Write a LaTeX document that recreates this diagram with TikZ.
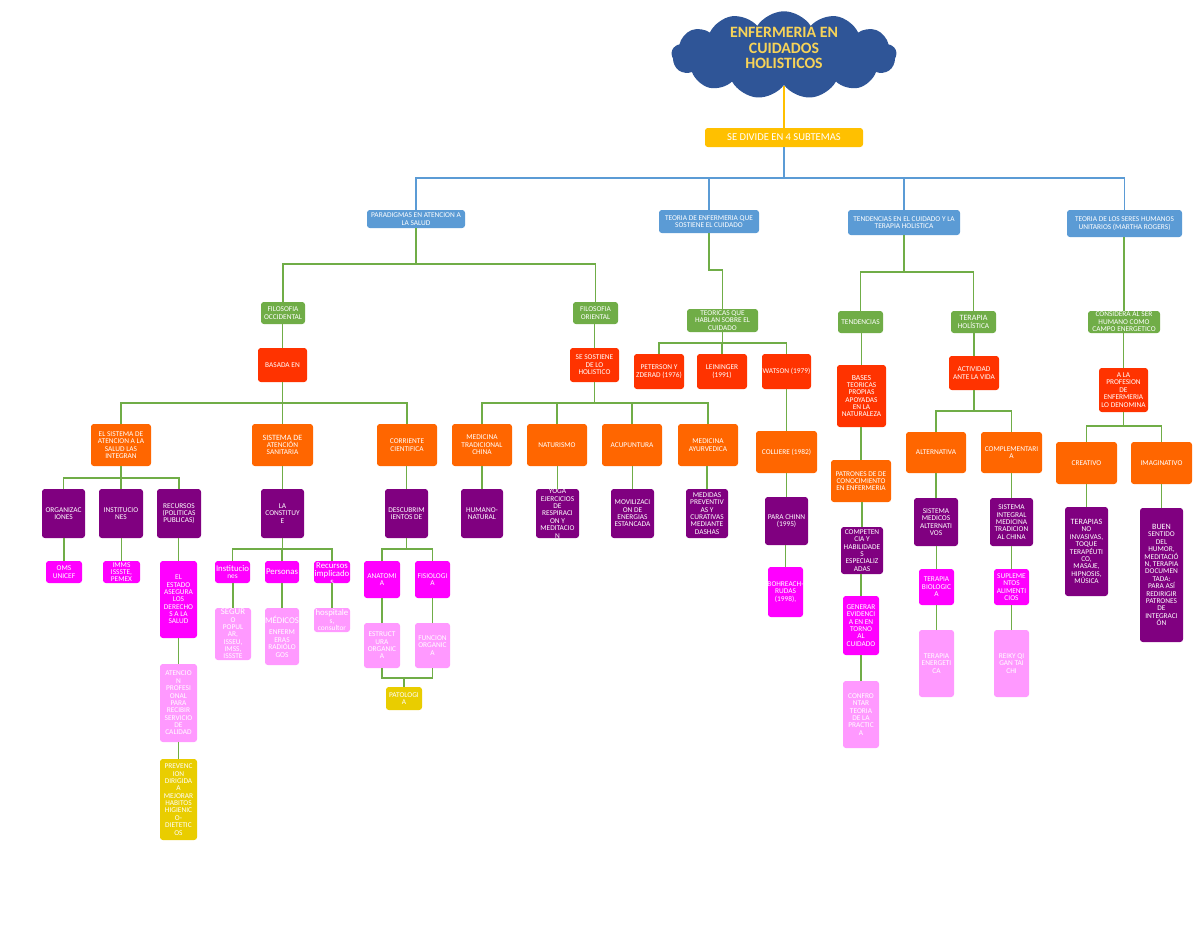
\documentclass[tikz,border=0pt]{standalone}
\usepackage{fontspec}
\newfontfamily\cf{Carlito}
\usetikzlibrary{shapes.symbols}
\definecolor{cblue}{HTML}{5B9BD5}
\definecolor{cgreen}{HTML}{70AD47}
\definecolor{cred}{HTML}{FF3300}
\definecolor{corange}{HTML}{FF6600}
\definecolor{cpurple}{HTML}{800080}
\definecolor{cmag}{HTML}{FF00FF}
\definecolor{clpink}{HTML}{FF99FF}
\definecolor{cyel}{HTML}{E9CD00}
\definecolor{cgold}{HTML}{FFC000}
\definecolor{ccloud}{HTML}{2F5597}
\definecolor{ctitle}{HTML}{F7D358}
\newcommand\bx[7]{%
  \node[box, fill=#2, minimum width={(#5-#3)*0.02cm}, minimum height={(#6-#4)*0.02cm}] (#1) at ({(#3+#5)/2},{(#4+#6)/2}) {};
  \node[txt] (#1-t) at (#1) {#7};}
\newcommand\vc[2]{\draw[gl] (#2.north) -- (#2.north |- #1.south);}
\newcommand\tb[3]{%
  \coordinate (#1-bar) at (#1.south |- 0,#2);
  \draw[gl] (#1) -- (#1-bar);
  \foreach \c in {#3} {\draw[gl] (\c) |- (#1-bar);}}
\begin{document}
\begin{tikzpicture}[x=0.02cm,y=-0.02cm,
  box/.style={rectangle, rounded corners=1.6pt, draw=none, inner sep=0pt, outer sep=0pt},
  txt/.style={font=\cf\fontsize{4.2}{4.2}\selectfont, text=white, align=center, inner sep=0pt},
  gl/.style={draw=cgreen, line width=1.1pt},
  bl/.style={draw=cblue, line width=1.1pt},
  big/.style={font=\cf\fontsize{4.6}{4.9}\selectfont},
  low/.style={font=\cf\fontsize{5}{4.8}\selectfont}]
\fill[white] (0,0) rectangle (1200,927);
\useasboundingbox (0,0) rectangle (1200,927);
% title
\node[cloud, cloud puffs=13, cloud puff arc=115, aspect=2.5, fill=ccloud, minimum width=4.5cm, minimum height=1.75cm, inner sep=0pt] (cloud) at (784,55) {};
\node[font=\cf\bfseries\fontsize{9}{8.6}\selectfont, text=ctitle, align=center] (title) at (784,48) {ENFERMERIA EN\\CUIDADOS\\HOLISTICOS};
\bx{divide}{cgold}{705}{128}{863}{147}{\fontsize{6}{6}\selectfont SE DIVIDE EN 4 SUBTEMAS}
\draw[draw=cgold, line width=1.1pt] (divide.north) -- (divide.north |- cloud.south);
% level 1
\bx{par}{cblue}{367}{210}{465}{228}{PARADIGMAS EN ATENCION A\\LA SALUD}
\bx{teo}{cblue}{659}{210}{759}{233}{TEORIA DE ENFERMERIA QUE\\SOSTIENE EL CUIDADO}
\bx{ten}{cblue}{848}{210}{960}{235}{TENDENCIAS EN EL CUIDADO Y LA\\TERAPIA HOLISTICA}
\bx{rog}{cblue}{1067}{210}{1182}{237}{TEORIA DE LOS SERES HUMANOS\\UNITARIOS (MARTHA ROGERS)}
\coordinate (bb) at (784,178);
\draw[bl] (divide) -- (bb);
\foreach \n in {par,teo,ten,rog} {\draw[bl] (\n) |- (bb);}
% tree A
\bx{filocc}{cgreen}{261}{302}{305}{324}{FILOSOFIA\\OCCIDENTAL}
\bx{basada}{cred}{258}{348}{307}{382}{BASADA EN}
\bx{sis1}{corange}{91}{424}{151}{466}{EL SISTEMA DE\\ATENCION A LA\\SALUD LAS\\INTEGRAN}
\bx{sis2}{corange}{252}{424}{313}{466}{\fontsize{4.6}{4.9}\selectfont SISTEMA DE\\ATENCIÓN\\SANITARIA}
\bx{corr}{corange}{377}{424}{437}{466}{CORRIENTE\\CIENTIFICA}
\bx{org}{cpurple}{42}{489}{85}{538}{ORGANIZAC\\IONES}
\bx{inst}{cpurple}{99}{489}{143}{538}{INSTITUCIO\\NES}
\bx{recp}{cpurple}{157}{489}{201}{538}{RECURSOS\\(POLITICAS\\PUBLICAS)}
\bx{oms}{cmag}{46}{561}{82}{583}{OMS\\UNICEF}
\bx{imms}{cmag}{103}{561}{140}{583}{IMMS\\ISSSTE,\\PEMEX}
\bx{estado}{cmag}{160}{561}{197}{638}{EL\\ESTADO\\ASEGURA\\LOS\\DERECHO\\S A LA\\SALUD}
\bx{aten}{clpink}{160}{664}{197}{742}{ATENCIO\\N\\PROFESI\\ONAL\\PARA\\RECIBIR\\SERVICIO\\DE\\CALIDAD}
\bx{prev}{cyel}{160}{759}{197}{840}{PREVENC\\ION\\DIRIGIDA\\A\\MEJORAR\\HABITOS\\HIGIENIC\\O-\\DIETETIC\\OS}
\bx{lacon}{cpurple}{261}{489}{304}{538}{LA\\CONSTITUY\\E}
\bx{instn}{cmag}{215}{561}{250}{583}{\fontsize{5}{5}\selectfont Institucio\\nes}
\bx{pers}{cmag}{265}{561}{299}{583}{\fontsize{5}{5}\selectfont Personas}
\node[box, fill=cmag, minimum width=0.72cm, minimum height=0.44cm] (recimp) at (332,572) {};
\node[txt, low, anchor=north] (recimp-t) at ([yshift=-0.6pt]recimp.north) {Recursos\\implicado\\s};
\bx{seguro}{clpink}{215}{608}{251}{660}{\fontsize{5}{4.6}\selectfont SEGUR\\O\\POPUL\\AR,\\ISSEU,\\IMSS,\\ISSSTE}
\bx{medicos}{clpink}{265}{608}{299}{665}{\fontsize{5}{4.8}\selectfont MÉDICOS\\[2.5pt]ENFERM\\ERAS\\RADIÓLO\\GOS}
\bx{hosp}{clpink}{314}{608}{350}{632}{\fontsize{5}{4.6}\selectfont hospitale\\s,\\consultor}
\bx{desc}{cpurple}{385}{489}{428}{538}{DESCUBRIM\\IENTOS DE}
\bx{anat}{cmag}{364}{561}{400}{598}{ANATOMI\\A}
\bx{fisio}{cmag}{415}{561}{450}{598}{FISIOLOGI\\A}
\bx{estr}{clpink}{364}{623}{400}{668}{ESTRUCT\\URA\\ORGANIC\\A}
\bx{func}{clpink}{415}{623}{450}{668}{FUNCION\\ORGANIC\\A}
\bx{pato}{cyel}{386}{687}{422}{710}{PATOLOGI\\A}
\bx{filori}{cgreen}{573}{302}{618}{324}{FILOSOFIA\\ORIENTAL}
\bx{sost}{cred}{570}{348}{619}{382}{SE SOSTIENE\\DE LO\\HOLISTICO}
\bx{mtc}{corange}{452}{424}{512}{466}{MEDICINA\\TRADICIONAL\\CHINA}
\bx{nat}{corange}{527}{424}{587}{466}{NATURISMO}
\bx{acu}{corange}{602}{424}{662}{466}{ACUPUNTURA}
\bx{ayur}{corange}{678}{424}{738}{466}{MEDICINA\\AYURVEDICA}
\bx{hum}{cpurple}{461}{489}{503}{538}{HUMANO-\\NATURAL}
\bx{yoga}{cpurple}{536}{489}{579}{538}{YOGA\\EJERCICIOS\\DE\\RESPIRACI\\ON Y\\MEDITACIO\\N}
\bx{movil}{cpurple}{611}{489}{654}{538}{MOVILIZACI\\ON DE\\ENERGIAS\\ESTANCADA}
\bx{medid}{cpurple}{686}{489}{728}{538}{MEDIDAS\\PREVENTIV\\AS Y\\CURATIVAS\\MEDIANTE\\DASHAS}
% tree B
\bx{teoricas}{cgreen}{687}{309}{758}{332}{TEORICAS QUE\\HABLAN SOBRE EL\\CUIDADO}
\bx{pet}{cred}{634}{354}{684}{389}{PETERSON Y\\ZDERAD (1976)}
\bx{lein}{cred}{697}{354}{747}{389}{LEININGER\\(1991)}
\bx{wat}{cred}{762}{354}{811}{389}{WATSON (1979)}
\bx{coll}{corange}{756}{431}{817}{473}{COLLIERE (1982)}
\bx{chinn}{cpurple}{765}{497}{808}{545}{PARA CHINN\\(1995)}
\bx{bohr}{cmag}{768}{567}{803}{617}{BOHREACH-\\RUDAS\\(1998),}
% tree C
\bx{tend}{cgreen}{838}{311}{883}{333}{TENDENCIAS}
\bx{terh}{cgreen}{951}{311}{996}{333}{\fontsize{4.6}{4.9}\selectfont TERAPIA\\HOLÍSTICA}
\bx{bases}{cred}{837}{365}{886}{427}{\fontsize{4.4}{4.8}\selectfont BASES\\TEORICAS\\PROPIAS\\APOYADAS\\EN LA\\NATURALEZA}
\bx{patr}{corange}{831}{460}{891}{502}{PATRONES DE DE\\CONOCIMIENTO\\EN ENFERMERIA}
\bx{comp}{cpurple}{841}{527}{883}{574}{COMPETEN\\CIA Y\\HABILIDADE\\S\\ESPECIALIZ\\ADAS}
\bx{gen}{cmag}{843}{596}{879}{655}{GENERAR\\EVIDENCI\\A EN EN\\TORNO\\AL\\CUIDADO}
\bx{confr}{clpink}{843}{681}{879}{748}{CONFRO\\NTAR\\TEORIA\\DE LA\\PRACTIC\\A}
\bx{act}{cred}{949}{356}{999}{390}{ACTIVIDAD\\ANTE LA VIDA}
\bx{alt}{corange}{906}{432}{966}{473}{ALTERNATIVA}
\bx{compl}{corange}{981}{432}{1042}{473}{COMPLEMENTARI\\A}
\bx{sma}{cpurple}{914}{498}{958}{546}{SISTEMA\\MEDICOS\\ALTERNATI\\VOS}
\bx{simtc}{cpurple}{990}{498}{1033}{546}{SISTEMA\\INTEGRAL\\MEDICINA\\TRADICION\\AL CHINA}
\bx{tbio}{cmag}{919}{569}{954}{605}{TERAPIA\\BIOLOGIC\\A}
\bx{supl}{cmag}{994}{569}{1029}{605}{SUPLEME\\NTOS\\ALIMENTI\\CIOS}
\bx{tene}{clpink}{919}{630}{954}{697}{TERAPIA\\ENERGETI\\CA}
\bx{reiky}{clpink}{994}{630}{1029}{697}{REIKY QI\\GAN TAI\\CHI}
% tree D
\bx{cons}{cgreen}{1088}{311}{1160}{333}{CONSIDERA AL SER\\HUMANO COMO\\CAMPO ENERGETICO}
\bx{prof}{cred}{1099}{368}{1148}{412}{A LA\\PROFESION\\DE\\ENFERMERIA\\LO DENOMINA}
\bx{crea}{corange}{1056}{442}{1117}{484}{CREATIVO}
\bx{imag}{corange}{1131}{442}{1192}{484}{IMAGINATIVO}
\bx{terap}{cpurple}{1065}{507}{1108}{596}{\fontsize{4.6}{5}\selectfont TERAPIAS\\NO\\INVASIVAS,\\TOQUE\\TERAPÉUTI\\CO,\\MASAJE,\\HIPNOSIS,\\MÚSICA}
\bx{buen}{cpurple}{1140}{508}{1183}{642}{\fontsize{4.6}{5}\selectfont BUEN\\SENTIDO\\DEL\\HUMOR,\\MEDITACIÓ\\N, TERAPIA\\DOCUMEN\\TADA:\\PARA ASÍ\\REDIRIGIR\\PATRONES\\DE\\INTEGRACI\\ÓN}
% connectors tree A
\tb{par}{264}{filocc,filori}
\vc{filocc}{basada}
\tb{basada}{403}{sis1,sis2,corr}
\tb{sis1}{478}{org,inst,recp}
\vc{org}{oms}\vc{inst}{imms}\vc{recp}{estado}\vc{estado}{aten}\vc{aten}{prev}
\vc{sis2}{lacon}
\tb{lacon}{549}{instn,pers,recimp}
\vc{instn}{seguro}\vc{pers}{medicos}\vc{recimp}{hosp}
\vc{corr}{desc}
\tb{desc}{549}{anat,fisio}
\vc{anat}{estr}\vc{fisio}{func}
\coordinate (pbar) at (pato.north |- 0,678);
\draw[gl] (estr) |- (pbar);
\draw[gl] (func) |- (pbar);
\draw[gl] (pato) -- (pbar);
\vc{filori}{sost}
\tb{sost}{403}{mtc,nat,acu,ayur}
\vc{mtc}{hum}\vc{nat}{yoga}\vc{acu}{movil}\vc{ayur}{medid}
% connectors tree B
\draw[gl] (teo) -- (teo.south |- 0,270) -| (teoricas);
\tb{teoricas}{343}{pet,lein,wat}
\vc{wat}{coll}\vc{coll}{chinn}\vc{chinn}{bohr}
% connectors tree C
\tb{ten}{272}{tend,terh}
\vc{tend}{bases}\vc{bases}{patr}\vc{patr}{comp}\vc{comp}{gen}\vc{gen}{confr}
\vc{terh}{act}
\tb{act}{411}{alt,compl}
\vc{alt}{sma}\vc{sma}{tbio}\vc{tbio}{tene}
\vc{compl}{simtc}\vc{simtc}{supl}\vc{supl}{reiky}
% connectors tree D
\vc{rog}{cons}\vc{cons}{prof}
\tb{prof}{426}{crea,imag}
\vc{crea}{terap}\vc{imag}{buen}
\end{tikzpicture}
\end{document}
